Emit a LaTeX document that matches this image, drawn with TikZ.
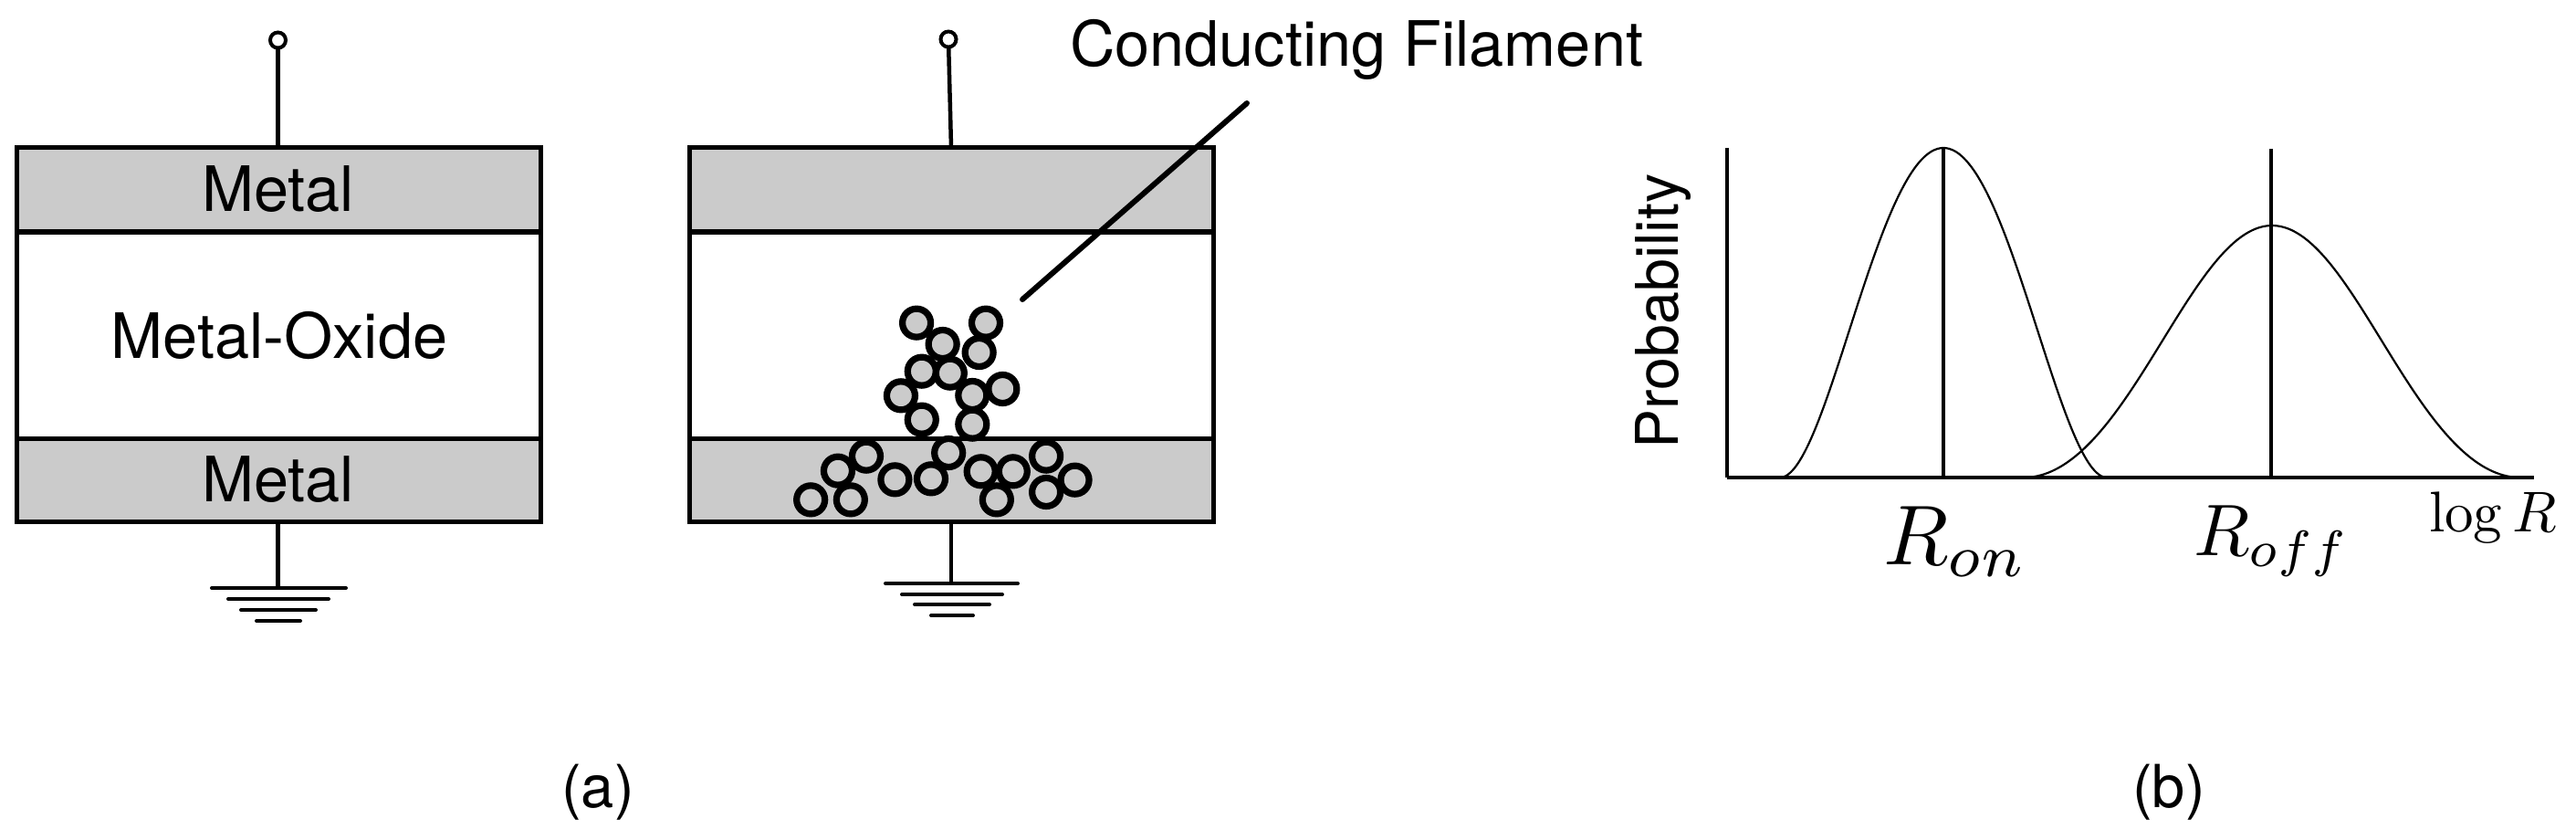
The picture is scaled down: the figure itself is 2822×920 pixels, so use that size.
\documentclass[tikz,border=0pt]{standalone}
\usepackage[no-math]{fontspec}
\newfontfamily\hel{TeX Gyre Heros}
\definecolor{metalgray}{HTML}{CBCBCB}
\tikzset{
  layer/.style={draw=black,line width=5pt,minimum width=574pt,inner sep=0pt,outer sep=0pt,line join=miter},
  txt/.style={inner sep=0pt,outer sep=0pt,font=\hel\fontsize{68.5}{72}\selectfont},
  captxt/.style={inner sep=0pt,outer sep=0pt,font=\hel\fontsize{65}{70}\selectfont},
  mathtxt/.style={inner sep=0pt,outer sep=0pt,anchor=base west},
  wire/.style={line width=4.5pt},
  gbar/.style={line width=4pt,line cap=round},
  terminal/.style={circle,draw=black,line width=4pt,fill=white,minimum size=17pt,inner sep=0pt,outer sep=0pt},
  grain/.style={circle,draw=black,line width=7.2pt,fill=metalgray,minimum size=31pt,inner sep=0pt,outer sep=0pt},
  axisline/.style={line width=3.2pt},
  curve/.style={line width=2.2pt},
}
\begin{document}
\begin{tikzpicture}[x=1pt,y=-1pt]
\useasboundingbox (0,0) rectangle (2822,920);
\fill[white] (0,0) rectangle (2822,920);
% left device
\node[layer,fill=white,minimum height=227pt] (oxL) at (305.5,367) {};
\node[layer,fill=metalgray,minimum height=92pt] (topL) at (305.5,208) {};
\node[layer,fill=metalgray,minimum height=91pt] (botL) at (305.5,526) {};
\node[txt,anchor=base] (mt1) at (304.5,232) {Metal};
\node[txt,anchor=base] (mo) at (306,392) {Metal-Oxide};
\node[txt,anchor=base] (mt2) at (304.5,549) {Metal};
\node[terminal] (termL) at (304.5,44) {};
\coordinate (gndL) at (304.5,644);
\draw[wire] (termL) -- (topL.north -| termL);
\draw[wire] (botL.south -| termL) -- (gndL);
\draw[gbar] (232,644) -- (379,644);
\draw[gbar] (250,656) -- (360,656);
\draw[gbar] (264,668) -- (346,668);
\draw[gbar] (281,680) -- (329,680);
% right device
\node[layer,fill=white,minimum height=227pt] (oxR) at (1042,367) {};
\node[layer,fill=metalgray,minimum height=92pt] (topR) at (1042,208) {};
\node[layer,fill=metalgray,minimum height=91pt] (botR) at (1042,526) {};
\node[terminal] (termR) at (1039,43) {};
\coordinate (gndR) at (1042,639);
\draw[wire] (termR) -- (topR.north);
\draw[wire] (botR.south) -- (gndR);
\draw[gbar] (970,639) -- (1115,639);
\draw[gbar] (988,651) -- (1098,651);
\draw[gbar] (1002,662) -- (1084,662);
\draw[gbar] (1020,674) -- (1066,674);
\foreach \a/\b [count=\i] in {647/131,833/131,717/201,815/228,661/290,737/296,605/370,797/369,878/348,661/449,797/464,733/558,512/569,436/617,363/712,470/712,589/646,686/643,820/619,906/619,862/712,995/569,995/687,1072/647}
  \node[grain] (g\i) at ({740+\a/2.45},{310+\b/3}) {};
\coordinate (ptrA) at (1120,328);
\coordinate (ptrB) at (1366,113);
\draw[line width=6pt,line cap=round] (ptrA) -- (ptrB);
\node[txt,anchor=base west] (cf) at (1172,73) {Conducting Filament};
% captions
\node[captxt,anchor=base] (capa) at (655,884) {(a)};
\node[captxt,anchor=base] (capb) at (2376,884) {(b)};
% plot
\coordinate (orig) at (1892,523);
\coordinate (ytop) at (1892,162);
\coordinate (xend) at (2776,523);
\draw[axisline] (ytop) -- (orig);
\draw[line width=4.5pt] (orig) -- (xend);
\draw[curve] plot[domain=-1:1,samples=90,smooth] ({2129+\x*179},{523-361*(1-\x*\x)*(1-\x*\x)});
\draw[curve] plot[domain=-90:90,samples=90,smooth] ({2489+\x/90*272},{523-276*(0.8*cos(\x)*cos(\x)+0.2*cos(\x)*cos(\x)*cos(\x)*cos(\x))});
\draw[axisline] (2129,162) -- (2129,523);
\draw[axisline] (2488,163) -- (2488,523);
\node[anchor=base,rotate=90,inner sep=0pt,font=\hel\fontsize{64.5}{68}\selectfont] (prob) at (1838,341) {Probability};
\node[mathtxt,scale=9.3] (ron) at (2063,618) {$R_{on}$};
\node[mathtxt,scale=8.0] (roff) at (2403,608) {$R_{off}$};
\node[mathtxt,scale=6.3] (logr) at (2661,582) {$\log R$};
\end{tikzpicture}
\end{document}
